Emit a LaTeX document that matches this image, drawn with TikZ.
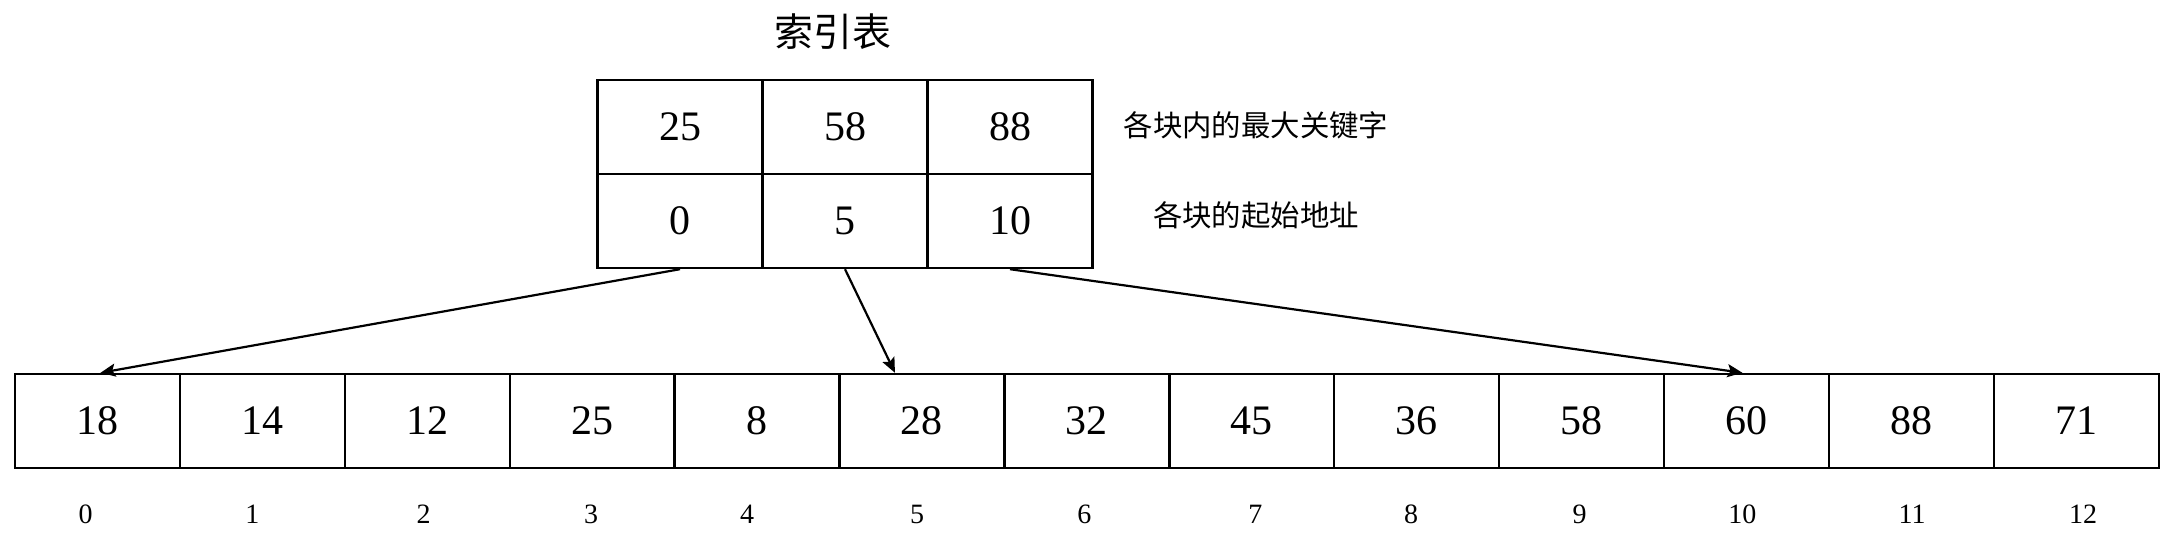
\documentclass[tikz,border=0pt]{standalone}
\usepackage{fontspec}
\setmainfont{Liberation Serif}
\newfontfamily\cjk{Noto Sans CJK SC}
\usetikzlibrary{arrows.meta}
\begin{document}
\begin{tikzpicture}[x=0.5pt,y=-0.5pt,
  cell/.style={draw, line width=1.2pt, minimum width=82.45pt, minimum height=47pt, inner sep=0pt, font=\fontsize{21}{24}\selectfont},
  icell/.style={draw, line width=1.2pt, minimum width=82.5pt, minimum height=47pt, inner sep=0pt, font=\fontsize{21}{24}\selectfont},
  idx/.style={font=\fontsize{14}{16}\selectfont},
  note/.style={font=\cjk\fontsize{14.7}{17}\selectfont},
  arr/.style={line width=1.1pt, -{Stealth[length=7.5pt,width=6.5pt,inset=1.5pt]}}]
\useasboundingbox (0,0) rectangle (2163,545);
% title
\node[font=\cjk\fontsize{19.5}{22}\selectfont] (title) at (833,32) {索引表};
% index table
\node[icell] (k0) at (680,127) {25};
\node[icell] (k1) at (845,127) {58};
\node[icell] (k2) at (1010,127) {88};
\node[icell] (a0) at (680,221) {0};
\node[icell] (a1) at (845,221) {5};
\node[icell] (a2) at (1010,221) {10};
\node[note] (n1) at (1256,125) {各块内的最大关键字};
\node[note] (n2) at (1256,215) {各块的起始地址};
% array
\foreach \v [count=\i from 0] in {18,14,12,25,8,28,32,45,36,58,60,88,71}{
  \node[cell] (c\i) at ({15+(\i+0.5)*164.9},421) {\v};
}
\foreach \i/\x in {0/85.5,1/252.4,2/423.5,3/591,4/747,5/917,6/1084.3,7/1255.3,8/1411.2,9/1579.5,10/1742.3,11/1912,12/2083}{
  \node[idx] (l\i) at (\x,514) {\i};
}
% arrows
\coordinate (t0) at ([xshift=1.5pt]c0.north);
\coordinate (t5) at ([xshift=-13.5pt]c5.north);
\coordinate (t10) at ([xshift=-2pt]c10.north);
\draw[arr] (a0.south) -- (t0);
\draw[arr] (a1.south) -- (t5);
\draw[arr] (a2.south) -- (t10);
\end{tikzpicture}
\end{document}
